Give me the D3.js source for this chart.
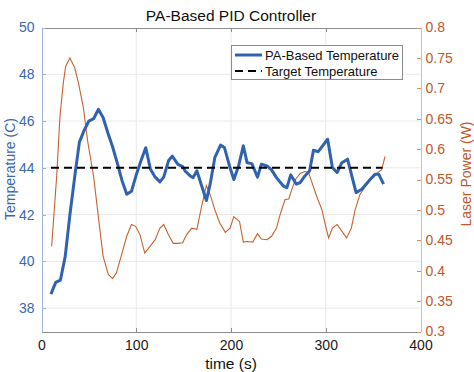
<!DOCTYPE html>
<html>
<head>
<meta charset="utf-8">
<script src="https://cdn.jsdelivr.net/npm/d3@7"></script>
<style>
  body { margin: 0; background: #fff; }
  svg text { font-family: "Liberation Sans", Arial, Helvetica, sans-serif; }
</style>
</head>
<body>
<div id="chart"></div>
<script>
// measured temperature (left axis)
var tempTime = [10, 15, 20, 25, 30, 35, 40, 45, 50, 55, 60, 65, 70, 75, 80, 85, 90, 95, 100, 105,
  110, 115, 120, 125, 129, 134, 138, 144, 149, 151.5, 157, 160, 164, 169, 174, 178, 183, 189, 193,
  199, 203, 208, 213, 217, 222, 228, 232, 238, 243, 248, 255, 259, 263, 269, 273, 278, 283, 287,
  292, 302, 307, 312, 317, 323, 332, 338, 347, 352, 356, 361];
var tempValues = [38.6, 39.1, 39.2, 40.2, 42.0, 43.6, 45.1, 45.6, 46.0, 46.1, 46.5, 46.15, 45.5, 44.9,
  44.2, 43.45, 42.87, 43.0, 43.7, 44.3, 44.86, 43.94, 43.6, 43.4, 43.6, 44.3, 44.5, 44.15, 44.05,
  43.87, 43.65, 43.58, 43.87, 43.23, 42.6, 43.3, 44.45, 44.97, 44.87, 44.0, 43.5, 44.08, 44.94,
  44.22, 44.18, 43.6, 44.15, 44.08, 43.9, 43.58, 43.23, 43.15, 43.7, 43.3, 43.37, 43.65, 43.87,
  44.75, 44.69, 45.22, 44.01, 43.8, 44.22, 44.37, 42.94, 43.08, 43.51, 43.72, 43.72, 43.3];

// laser power (right axis)
var powerTime = [10.7, 16, 19.5, 23, 25.5, 30, 35, 39, 44, 49, 55, 60, 65, 70.5, 75, 79, 85, 90, 95,
  99.4, 104, 109, 114.5, 120, 125, 129, 134, 139, 144, 149, 153, 158.5, 164, 169, 174, 178, 183, 188,
  194, 199, 203, 209, 213, 217, 223, 228, 232, 238, 243, 248, 252, 257, 261, 264, 268, 273, 278, 282,
  285, 290.5, 296, 299, 303, 307, 312, 317, 322, 327, 331, 336, 341.5, 347, 354, 359, 362.6];
var powerValues = [0.440, 0.555, 0.654, 0.709, 0.736, 0.750, 0.734, 0.709, 0.670, 0.610, 0.555, 0.489,
  0.424, 0.394, 0.387, 0.396, 0.429, 0.457, 0.476, 0.473, 0.459, 0.429, 0.440, 0.451, 0.470, 0.476,
  0.459, 0.445, 0.445, 0.446, 0.459, 0.470, 0.468, 0.506, 0.540, 0.525, 0.500, 0.479, 0.463, 0.470,
  0.489, 0.481, 0.447, 0.448, 0.447, 0.461, 0.452, 0.451, 0.457, 0.470, 0.493, 0.517, 0.518, 0.533,
  0.550, 0.560, 0.563, 0.561, 0.547, 0.522, 0.500, 0.479, 0.454, 0.470, 0.476, 0.465, 0.454, 0.470,
  0.500, 0.525, 0.538, 0.549, 0.560, 0.566, 0.588];

var targetTime = [10, 360];
var targetValue = 44;

var xTicks = [0, 100, 200, 300, 400];
var leftTicks = [38, 40, 42, 44, 46, 48, 50];
var rightTicks = [0.3, 0.35, 0.4, 0.45, 0.5, 0.55, 0.6, 0.65, 0.7, 0.75, 0.8];
var legendLabels = ["PA-Based Temperature", "Target Temperature"];

var blue = "#2f63b0", blueText = "#3a67b0";
var orange = "#c9602e", orangeText = "#c0582a";

var W = 474, H = 372;
var plotL = 41.5, plotR = 420.5, plotT = 27.5, plotB = 331.5;

var svg = d3.select("#chart").append("svg")
    .attr("width", W)
    .attr("height", H);

var x = d3.scaleLinear().domain([0, 400]).range([plotL, plotR]);
var yL = d3.scaleLinear().domain([37, 50]).range([plotB, plotT]);
var yR = d3.scaleLinear().domain([0.3, 0.8]).range([plotB, plotT]);

// grid
var grid = svg.append("g");
grid.selectAll(".gx").data(xTicks.slice(1, -1)).enter().append("line")
    .attr("x1", function(d){ return x(d); }).attr("x2", function(d){ return x(d); })
    .attr("y1", plotT).attr("y2", plotB)
    .attr("stroke", "#e8e8e8").attr("stroke-width", 1);
grid.selectAll(".gy").data(leftTicks.slice(0, -1)).enter().append("line")
    .attr("x1", plotL).attr("x2", plotR)
    .attr("y1", function(d){ return yL(d); }).attr("y2", function(d){ return yL(d); })
    .attr("stroke", "#e8e8e8").attr("stroke-width", 1);

// axes
var xAxis = svg.append("g")
    .attr("transform", "translate(0," + plotB + ")")
    .call(d3.axisBottom(x).tickValues(xTicks).tickSizeInner(-4).tickSizeOuter(0).tickPadding(9));
var xTop = svg.append("g")
    .attr("transform", "translate(0," + plotT + ")")
    .call(d3.axisTop(x).tickValues(xTicks).tickSizeInner(-4).tickSizeOuter(0).tickFormat(""));
var lAxis = svg.append("g")
    .attr("transform", "translate(" + plotL + ",0)")
    .call(d3.axisLeft(yL).tickValues(leftTicks).tickSizeInner(-4).tickSizeOuter(0).tickPadding(7));
var rAxis = svg.append("g")
    .attr("transform", "translate(" + plotR + ",0)")
    .call(d3.axisRight(yR).tickValues(rightTicks).tickSizeInner(-4).tickSizeOuter(0).tickPadding(5)
      .tickFormat(d3.format("~g")));

[xAxis, xTop].forEach(function(a){
  a.select(".domain").attr("stroke", "#8c8c8c");
  a.selectAll(".tick line").attr("stroke", "#8c8c8c");
  a.selectAll("text").attr("fill", "#1a1a1a").attr("font-size", "14px");
});
lAxis.select(".domain").attr("stroke", "#9fb3d6");
lAxis.selectAll(".tick line").attr("stroke", "#9fb3d6");
lAxis.selectAll("text").attr("fill", blueText).attr("font-size", "14px");
rAxis.select(".domain").attr("stroke", "#e3b9a3");
rAxis.selectAll(".tick line").attr("stroke", "#d9906b");
rAxis.selectAll("text").attr("fill", orangeText).attr("font-size", "14px");
svg.selectAll(".domain, .tick line").attr("shape-rendering", "crispEdges");

// lines
var tempData = tempTime.map(function(t, i){ return [t, tempValues[i]]; });
var powerData = powerTime.map(function(t, i){ return [t, powerValues[i]]; });

svg.append("path")
    .datum(powerData)
    .attr("fill", "none").attr("stroke", orange).attr("stroke-width", 1.1)
    .attr("d", d3.line().x(function(d){ return x(d[0]); }).y(function(d){ return yR(d[1]); }));

svg.append("path")
    .datum(tempData)
    .attr("fill", "none").attr("stroke", blue).attr("stroke-width", 3)
    .attr("stroke-linejoin", "round")
    .attr("d", d3.line().x(function(d){ return x(d[0]); }).y(function(d){ return yL(d[1]); }));

svg.append("line")
    .attr("x1", x(targetTime[0])).attr("x2", x(targetTime[1]))
    .attr("y1", yL(targetValue)).attr("y2", yL(targetValue))
    .attr("stroke", "#000").attr("stroke-width", 2).attr("stroke-dasharray", "8,5");

// titles
svg.append("text")
    .attr("x", (plotL + plotR) / 2).attr("y", 21)
    .attr("text-anchor", "middle").attr("font-size", "15.5px").attr("fill", "#111")
    .text("PA-Based PID Controller");
svg.append("text")
    .attr("x", (plotL + plotR) / 2).attr("y", 369)
    .attr("text-anchor", "middle").attr("font-size", "15.5px").attr("fill", "#111")
    .text("time (s)");
svg.append("text")
    .attr("transform", "translate(15," + 169 + ") rotate(-90)")
    .attr("text-anchor", "middle").attr("font-size", "14px").attr("fill", blueText)
    .text("Temperature (C)");
svg.append("text")
    .attr("transform", "translate(471," + 174 + ") rotate(-90)")
    .attr("text-anchor", "middle").attr("font-size", "14px").attr("fill", orangeText)
    .text("Laser Power (W)");

// legend
var legend = svg.append("g");
legend.append("rect")
    .attr("x", 231.5).attr("y", 45.5).attr("width", 171).attr("height", 34)
    .attr("fill", "#fff").attr("stroke", "#8c8c8c").attr("stroke-width", 1);
legend.selectAll(".li").data(legendLabels).enter().append("line")
    .attr("x1", 235).attr("x2", 262)
    .attr("y1", function(d, i){ return 55 + i * 16; }).attr("y2", function(d, i){ return 55 + i * 16; })
    .attr("stroke", function(d, i){ return i === 0 ? blue : "#000"; })
    .attr("stroke-width", function(d, i){ return i === 0 ? 3 : 2; })
    .attr("stroke-dasharray", function(d, i){ return i === 0 ? null : "8,5"; });
legend.selectAll(".lt").data(legendLabels).enter().append("text")
    .attr("x", 265).attr("y", function(d, i){ return 59.5 + i * 16; })
    .attr("font-size", "13px").attr("fill", "#111")
    .text(function(d){ return d; });
</script>
</body>
</html>
